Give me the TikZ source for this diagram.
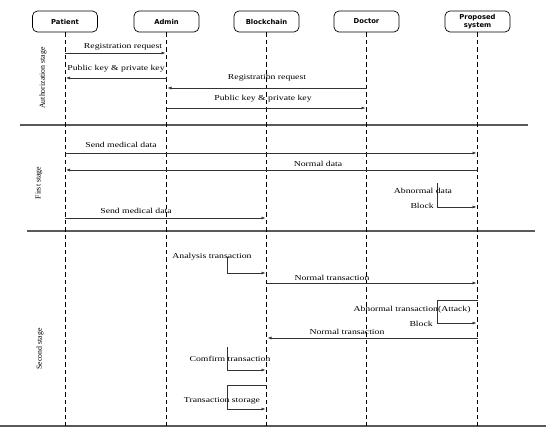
\documentclass[tikz,border=0pt]{standalone}
\usepackage{fontspec}
\setmainfont{Liberation Serif}
\newfontfamily\hdrfont{DejaVu Sans}
\usetikzlibrary{arrows.meta}
\begin{document}
\begin{tikzpicture}[x=1pt,y=-1pt,
  actor/.style={draw,line width=0.7pt,rounded corners=5pt,minimum width=65pt,minimum height=21pt,
    font=\hdrfont\bfseries\fontsize{6.8}{7.8}\selectfont,align=center,inner sep=1pt},
  life/.style={dash pattern=on 4.5pt off 3pt,line width=0.75pt},
  sep/.style={draw=black!65,line width=1.5pt},
  msg/.style={draw=black!80,line width=0.7pt,-{Latex[length=4pt,width=3pt]},shorten >=1pt},
  lbl/.style={font=\fontsize{7.6}{9}\selectfont,inner sep=0pt,xscale=1.28},
  stage/.style={font=\fontsize{7.8}{9}\selectfont,rotate=90,inner sep=0pt}]
\useasboundingbox (0,0) rectangle (550,435);

% actors
\node[actor] (pat) at (65,21.5) {Patient};
\node[actor] (adm) at (166.5,21.5) {Admin};
\node[actor] (blk) at (266.5,21.5) {Blockchain};
\node[actor] (doc) at (366.5,21.5) {Doctor};
\node[actor] (prop) at (477.5,21.5) {Proposed\\system};

% lifeline ends
\coordinate (patE) at (pat.south |- 0,426);
\coordinate (admE) at (adm.south |- 0,426);
\coordinate (blkE) at (blk.south |- 0,426);
\coordinate (docE) at (doc.south |- 0,426);
\coordinate (propE) at (prop.south |- 0,426);

% separators
\draw[sep] (20,125) -- (528,125);
\draw[sep] (27,231) -- (535,231);
\draw[sep] (0,426) -- (546,426);

% lifelines
\draw[life] (pat.south) -- (patE);
\draw[life] (adm.south) -- (admE);
\draw[life] (blk.south) -- (blkE);
\draw[life] (doc.south) -- (docE);
\draw[life] (prop.south) -- (propE);

% stage labels
\node[stage] (st1) at (43,78) {Authorization stage};
\node[stage] (st2) at (39,183) {First stage};
\node[stage] (st3) at (40,349) {Second stage};

% Authorization stage
\draw[msg] (pat |- 0,53) -- (adm |- 0,53);
\node[lbl] (m1) at (123,47) {Registration request};
\draw[msg] (adm |- 0,78) -- (pat |- 0,78);
\node[lbl] (m2) at (116,69) {Public key \& private key};
\draw[msg] (doc |- 0,88) -- (adm |- 0,88);
\node[lbl] (m3) at (267,78) {Registratibn request};
\draw[msg] (adm |- 0,108) -- (doc |- 0,108);
\node[lbl] (m4) at (263,99) {Public key \& private key};

% First stage
\draw[msg] (pat |- 0,153) -- (prop |- 0,153);
\node[lbl] (m5) at (121,145) {Send medical data};
\draw[msg] (prop |- 0,170) -- (pat |- 0,170);
\node[lbl] (m6) at (318,164) {Normal data};
\coordinate (ab1) at (437,183);
\coordinate (ab2) at (437,207);
\draw[msg] (ab1) -- (ab2) -- (prop |- ab2);
\node[lbl] (m7) at (423,191) {Abnormal data};
\node[lbl,anchor=east] (m8) at (434,206) {Block};
\draw[msg] (pat |- 0,218) -- (blk |- 0,218);
\node[lbl] (m9) at (136,211) {Send medical data};

% Second stage
\coordinate (an1) at (227,257);
\coordinate (an2) at (227,273);
\draw[msg] (an1) -- (an2) -- (blk |- an2);
\node[lbl] (m10) at (212,257) {Analysis transaction};
\draw[msg] (blk |- 0,283) -- (prop |- 0,283);
\node[lbl] (m11) at (332,278) {Normal transaction};
\coordinate (at1) at (437,300);
\coordinate (at2) at (437,323);
\draw[msg] (prop |- at1) -- (at1) -- (at2) -- (prop |- at2);
\node[lbl] (m12) at (412,310) {Abnormal transaction(Attack)};
\node[lbl,anchor=east] (m13) at (433,324) {Block};
\draw[msg] (prop |- 0,338) -- (blk |- 0,338);
\node[lbl] (m14) at (347,332) {Normal transaction};
\coordinate (cf1) at (227,347);
\coordinate (cf2) at (227,370);
\draw[msg] (cf1) -- (cf2) -- (blk |- cf2);
\node[lbl] (m15) at (230,359) {Comfirm transaction};
\coordinate (ts1) at (227,385);
\coordinate (ts2) at (227,409);
\draw[msg] (blk |- ts1) -- (ts1) -- (ts2) -- (blk |- ts2);
\node[lbl] (m16) at (222,401) {Transaction storage};
\end{tikzpicture}
\end{document}
